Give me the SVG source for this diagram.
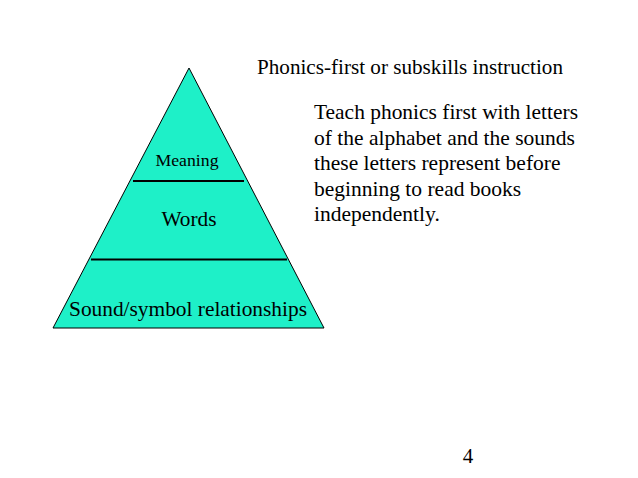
<svg xmlns="http://www.w3.org/2000/svg" width="638" height="478" viewBox="0 0 638 478">
<style>
text{font-family:"Liberation Serif","Times New Roman",serif;fill:#000}
.div{stroke:#000;stroke-width:2.2}
</style>
<rect width="638" height="478" fill="#fff"/>
<g id="pyramid">
<polygon points="189,68 53,328 324,328" fill="#1ef0c8" stroke="#000" stroke-width="1"/>
<line class="div" x1="133" y1="181" x2="244" y2="181"/>
<line class="div" x1="91" y1="259.5" x2="287" y2="259.5"/>
</g>
<g id="meaning"><text x="187" y="166" font-size="17.5" text-anchor="middle" textLength="63" lengthAdjust="spacingAndGlyphs">Meaning</text></g>
<g id="words"><text x="189" y="226" font-size="21" text-anchor="middle" textLength="55" lengthAdjust="spacingAndGlyphs">Words</text></g>
<g id="sound"><text x="188" y="316" font-size="21" text-anchor="middle" textLength="238" lengthAdjust="spacingAndGlyphs">Sound/symbol relationships</text></g>
<g id="title"><text x="257" y="74" font-size="21" textLength="306" lengthAdjust="spacingAndGlyphs">Phonics-first or subskills instruction</text></g>
<g id="body" font-size="21.5">
<text x="314" y="119" textLength="264" lengthAdjust="spacingAndGlyphs">Teach phonics first with letters</text>
<text x="314" y="144.5">of the alphabet and the sounds</text>
<text x="314" y="170">these letters represent before</text>
<text x="314" y="195.5">beginning to read books</text>
<text x="314" y="221">independently.</text>
</g>
<g id="page"><text x="468" y="463" font-size="21" text-anchor="middle">4</text></g>
<g id="connectors"/>
</svg>
